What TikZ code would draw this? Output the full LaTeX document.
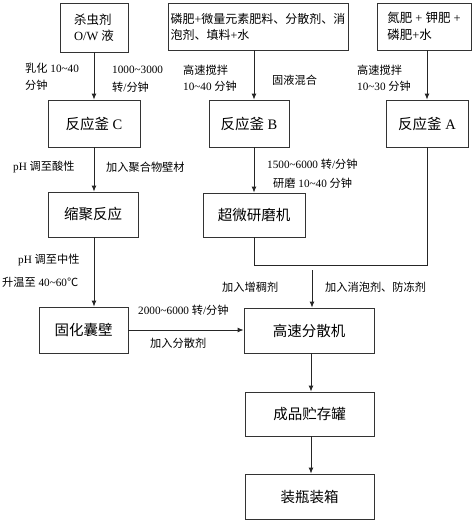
\documentclass[tikz,border=0pt]{standalone}
\usepackage{fontspec}
\setmainfont{Liberation Serif}
\newfontfamily\cjk{Noto Sans CJK SC}
\usetikzlibrary{arrows.meta}
\newcommand{\tl}{\textasciitilde}
\begin{document}
\begin{tikzpicture}[x=1pt,y=-1pt,
  box/.style={draw=black!80, line width=0.8pt, inner sep=0pt, font=\fontsize{14.5}{17}\selectfont},
  topbox/.style={box, align=left, font=\fontsize{12.5}{16.5}\selectfont},
  lab/.style={anchor=west, inner sep=0pt, font=\fontsize{11.2}{12}\selectfont},
  arr/.style={draw=black!85, line width=0.9pt, -{Latex[length=6pt,width=5pt]}},
  ln/.style={draw=black!85, line width=0.9pt}]
\useasboundingbox (0,0) rectangle (474,520);
% column x positions
\coordinate (xl) at (94,0);
\coordinate (xm) at (254,0);
\coordinate (xa) at (427,0);
\coordinate (xr) at (311,0);
% boxes
\node[topbox, minimum width=68pt, minimum height=49pt] (t1) at (94,27.5) {{\cjk 杀虫剂}\\O/W {\cjk 液}};
\node[topbox, minimum width=180pt, minimum height=47pt, font=\fontsize{12}{16}\selectfont] (t2) at (258,26.5) {{\cjk 磷肥}+{\cjk 微量元素肥料、分散剂、消}\\{\cjk 泡剂、填料}+{\cjk 水}};
\node[topbox, minimum width=94pt, minimum height=47pt] (t3) at (424,26.5) {{\cjk 氮肥} + {\cjk 钾肥} +\\{\cjk 磷肥}+{\cjk 水}};
\node[box, minimum width=92pt, minimum height=47pt] (C) at (94,123.5) {{\cjk 反应釜} C};
\node[box, minimum width=80pt, minimum height=47pt] (B) at (249,123.5) {{\cjk 反应釜} B};
\node[box, minimum width=82pt, minimum height=47pt] (A) at (427,123.5) {{\cjk 反应釜} A};
\node[box, minimum width=90pt, minimum height=45pt] (suo) at (93,214.5) {\cjk 缩聚反应};
\node[box, minimum width=102pt, minimum height=44pt] (chao) at (254,215) {\cjk 超微研磨机};
\node[box, minimum width=89pt, minimum height=46pt] (gh) at (83.5,330) {\cjk 固化囊壁};
\node[box, minimum width=130pt, minimum height=45pt] (gs) at (309,330.5) {\cjk 高速分散机};
\node[box, minimum width=129pt, minimum height=44pt] (cp) at (309.5,414) {\cjk 成品贮存罐};
\node[box, minimum width=129pt, minimum height=45pt] (zp) at (309.5,496.5) {\cjk 装瓶装箱};
% connectors
\draw[arr] (t1.south -| xl) -- (C.north -| xl);
\draw[arr] (C.south -| xl) -- (suo.north -| xl);
\draw[arr] (suo.south -| xl) -- (gh.north -| xl);
\draw[arr] (t2.south -| xm) -- (B.north -| xm);
\draw[arr] (B.south -| xm) -- (chao.north -| xm);
\draw[arr] (t3.south -| xa) -- (A.north -| xa);
\coordinate (junc) at (312,265);
\draw[ln] (chao.south) -- (chao.south |- junc) -- (xa |- junc) -- (A.south -| xa);
\coordinate (m) at (312,270);
\draw[arr] (m) -- (gs.north -| m);
\draw[arr] (gh.east) -- (gs.west |- gh.east);
\draw[arr] (gs.south -| xr) -- (cp.north -| xr);
\draw[arr] (cp.south -| xr) -- (zp.north -| xr);
% labels
\node[lab] (l1) at (25,68) {{\cjk 乳化} 10\tl40};
\node[lab] (l2) at (25,85) {\cjk 分钟};
\node[lab] (l3) at (112,70) {1000\tl3000};
\node[lab] (l4) at (112,87) {{\cjk 转}/{\cjk 分钟}};
\node[lab] (l5) at (183,70) {\cjk 高速搅拌};
\node[lab] (l6) at (183,86) {10\tl40 {\cjk 分钟}};
\node[lab] (l7) at (272,80) {\cjk 固液混合};
\node[lab] (l8) at (357,70) {\cjk 高速搅拌};
\node[lab] (l9) at (357,86) {10\tl30 {\cjk 分钟}};
\node[lab] (l10) at (13,167) {pH {\cjk 调至酸性}};
\node[lab] (l11) at (106,167) {\cjk 加入聚合物壁材};
\node[lab] (l12) at (267,164) {1500\tl6000 {\cjk 转}/{\cjk 分钟}};
\node[lab] (l13) at (273,183) {{\cjk 研磨} 10\tl40 {\cjk 分钟}};
\node[lab] (l14) at (18,260) {pH {\cjk 调至中性}};
\node[lab] (l15) at (2,282) {{\cjk 升温至} 40\tl60{\cjk ℃}};
\node[lab] (l16) at (222,287) {\cjk 加入增稠剂};
\node[lab] (l17) at (325,287) {\cjk 加入消泡剂、防冻剂};
\node[lab] (l18) at (138,310) {2000\tl6000 {\cjk 转}/{\cjk 分钟}};
\node[lab] (l19) at (150,343) {\cjk 加入分散剂};
\end{tikzpicture}
\end{document}
